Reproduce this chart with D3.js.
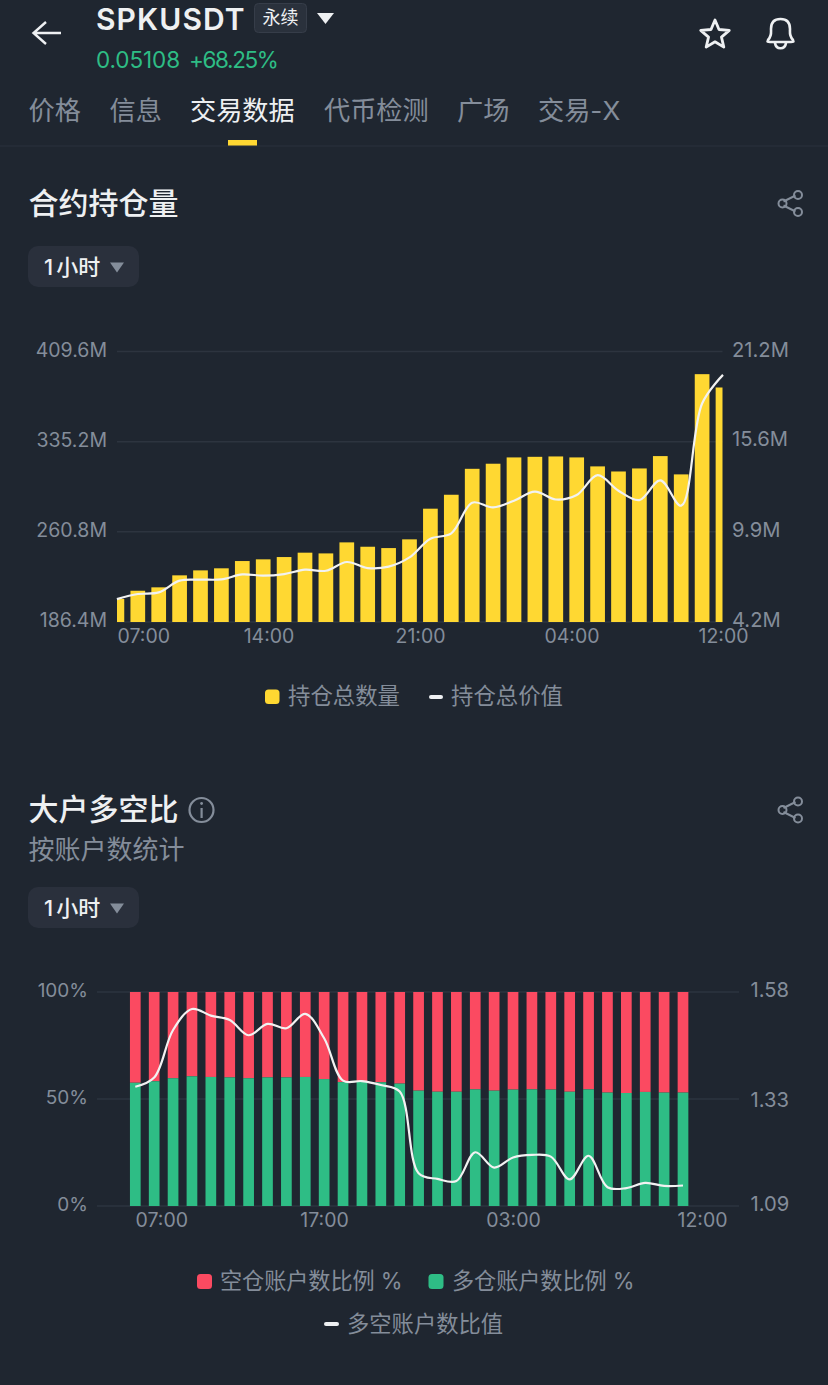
<!DOCTYPE html>
<html><head><meta charset="utf-8">
<script src="https://cdnjs.cloudflare.com/ajax/libs/d3/7.8.5/d3.min.js"></script>
<style>
html,body{margin:0;padding:0;background:#1f2630;}
svg{display:block;}
text{font-family:"Inter","Noto Sans CJK SC",sans-serif;}
</style></head><body>
<svg id="c" width="828" height="1385"></svg>
<script>
const oiTickLabels=["07:00","14:00","21:00","04:00","12:00"];
const oiLeftTicks=[186.4,260.8,335.2,409.6];
const oiRightTicks=[4.2,9.9,15.6,21.2];
const oiQty=[205.4,212.2,215.0,224.9,229.0,230.7,236.7,238.1,240.0,243.6,243.0,252.1,248.5,247.4,254.6,279.9,291.4,312.8,317.0,322.2,322.7,323.0,322.2,314.8,310.6,313.1,323.3,308.2,390.9,379.9];
const oiVal=[5.64,5.96,6.06,6.80,6.86,6.88,7.19,7.11,7.21,7.49,7.42,7.97,7.59,7.68,8.26,9.43,9.77,11.70,11.40,11.82,12.39,11.90,12.18,13.43,12.45,11.86,13.10,11.51,17.93,19.73];
const lsTickLabels=["07:00","17:00","03:00","12:00"];
const lsLeftTicks=[0,50,100];
const lsRightTicks=[1.09,1.33,1.58];
const lsLong=[57.6,58.3,59.7,60.6,60.3,60.1,59.7,60.1,60.1,60.3,59.3,57.9,58.1,57.8,57.2,53.9,53.4,53.4,54.5,53.9,54.4,54.5,54.4,53.4,54.5,53.0,52.8,53.3,53.0,53.0];
const lsRatio=[1.363,1.384,1.493,1.541,1.526,1.516,1.481,1.507,1.497,1.530,1.474,1.377,1.376,1.367,1.352,1.165,1.152,1.147,1.213,1.178,1.201,1.207,1.203,1.151,1.205,1.133,1.131,1.143,1.136,1.137];

const BG="#1f2630",GRID="#2d343f",GRAY="#848d9a",WHITE="#eef0f2",YEL="#ffd832",RED="#fb4a61",GRN="#2ebd85";
const svg=d3.select("#c");
function t(x,y,s,size,fill,opts={}){
  return svg.append("text").attr("x",x).attr("y",y).text(s).attr("font-size",size).attr("fill",fill)
   .attr("font-weight",opts.w||400).attr("text-anchor",opts.a||"start").attr("letter-spacing",opts.ls||null);
}
/* header */
svg.append("path").attr("d","M61 33H34M46 22L33.500 33L46 44").attr("fill","none").attr("stroke",WHITE).attr("stroke-width",2.4);
t(96,30,"SPKUSDT",30,WHITE,{w:600,ls:1.1});
svg.append("rect").attr("x",254.500).attr("y",3.500).attr("width",52).attr("height",29).attr("rx",4).attr("fill","#2a313c").attr("stroke","#363d49");
t(280.500,24,"永续",18,WHITE,{a:"middle"});
svg.append("path").attr("d","M317 13H334L325.500 24Z").attr("fill",WHITE);
t(96,68,"0.05108",22.5,GRN,{ls:-0.1});
t(189,68,"+68.25%",22.5,GRN,{ls:-1.4});
const tabs=[["价格",28.5],["信息",109.5],["交易数据",190],["代币检测",324],["广场",457],["交易-X",538]];
tabs.forEach(([s,x])=>t(x,120,s,26.2,s==="交易数据"?WHITE:GRAY));
svg.append("rect").attr("x",228).attr("y",140).attr("width",29).attr("height",6).attr("fill",YEL);
svg.append("line").attr("x1",0).attr("x2",828).attr("y1",146).attr("y2",146).attr("stroke","#2a313c");
const star=d3.range(10).map(i=>{const r=i%2?6.8:15,a=-Math.PI/2+i*Math.PI/5;return[715+r*Math.cos(a),35+r*Math.sin(a)];});
svg.append("path").attr("d",d3.line().curve(d3.curveLinearClosed)(star)).attr("fill","none").attr("stroke",WHITE).attr("stroke-width",2.8).attr("stroke-linejoin","round");
svg.append("path").attr("d","M768 40C772 36 771 32 771 29C771 22 775 19 780.500 19C786 19 790 22 790 29C790 32 789 36 793 40C794 42 793 42 791 42H770C768 42 767 42 768 40ZM775 43C776 50 785 50 786 43").attr("fill","none").attr("stroke",WHITE).attr("stroke-width",2.6);
function share(cx,cy){
  const g=svg.append("g").attr("fill","none").attr("stroke",GRAY).attr("stroke-width",2);
  g.append("path").attr("d",`M${cx-6.500} ${cy-2}L${cx+5.500} ${cy-8}M${cx-6.500} ${cy+2}L${cx+5.500} ${cy+8}`);
  g.append("circle").attr("cx",cx-7.500).attr("cy",cy).attr("r",4);
  g.append("circle").attr("cx",cx+8).attr("cy",cy-8.500).attr("r",4);
  g.append("circle").attr("cx",cx+8).attr("cy",cy+8.500).attr("r",4);
}
function dropdown(y){
  svg.append("rect").attr("x",28).attr("y",y).attr("width",111).attr("height",41).attr("rx",10).attr("fill","#2a303c");
  const lab=t(44,y+29,"1",22,WHITE,{w:500});
  lab.append("tspan").attr("dx",3).text("小时");
  svg.append("path").attr("d",`M110 ${y+16.500}H124L117 ${y+26.500}Z`).attr("fill",GRAY);
}
t(28.500,214,"合约持仓量",30,WHITE,{w:500});
share(790,203.500);
dropdown(246);
t(28.500,820,"大户多空比",30,WHITE,{w:500});
svg.append("circle").attr("cx",201.500).attr("cy",810).attr("r",12).attr("fill","none").attr("stroke",GRAY).attr("stroke-width",2.2);
svg.append("rect").attr("x",200.500).attr("y",808).attr("width",2.200).attr("height",10).attr("fill",GRAY);
svg.append("circle").attr("cx",201.600).attr("cy",803.500).attr("r",1.400).attr("fill",GRAY);
t(28.500,859,"按账户数统计",26,GRAY);
share(790,810);
dropdown(887);

function styleAxis(g,size){
  g.select(".domain").remove();
  g.selectAll(".tick line").remove();
  g.selectAll(".tick text").attr("font-size",size||19.5).attr("fill",GRAY).attr("font-family","Inter,sans-serif");
}
svg.append("defs").append("clipPath").attr("id","oiClip").append("rect").attr("x",117).attr("y",340).attr("width",605.500).attr("height",290);

/* chart 1 */
const oiIdx=d3.range(oiQty.length);
const ox=d3.scalePoint().domain(oiIdx).range([116.900,723]);
const oyL=d3.scaleLinear().domain([186.4,409.6]).range([622,351.500]);
const oyR=d3.scaleLinear().domain([4.2,21.2]).range([622,351.500]);
svg.append("g").selectAll("line").data(oiLeftTicks).join("line").attr("x1",117).attr("x2",722.500).attr("y1",d=>oyL(d)).attr("y2",d=>oyL(d)).attr("stroke",GRID).attr("stroke-width",1.500);
const oBarW=14.700;
svg.append("g").attr("clip-path","url(#oiClip)").selectAll("rect").data(oiQty).join("rect")
  .attr("x",(d,i)=>ox(i)-oBarW/2).attr("width",oBarW).attr("y",d=>oyL(d)).attr("height",d=>oyL(186.4)-oyL(d)).attr("fill",YEL);
svg.append("path").datum(oiVal).attr("fill","none").attr("stroke","#f2f2f2").attr("stroke-width",2.2)
  .attr("d",d3.line().x((d,i)=>ox(i)).y(d=>oyR(d)).curve(d3.curveCatmullRom.alpha(0.5)));
const oxT=d3.scalePoint().domain(oiTickLabels).range([117,723]);
const ax1=svg.append("g").attr("transform","translate(0,622)").call(d3.axisBottom(oxT).tickSize(0).tickPadding(21));
styleAxis(ax1);
ax1.selectAll(".tick text").attr("dy",0).attr("y",21).filter(d=>d==="07:00").attr("text-anchor","start");
const ayl=svg.append("g").attr("transform","translate(107,-2)").call(d3.axisLeft(oyL).tickValues(oiLeftTicks).tickSize(0).tickPadding(0).tickFormat(d=>d.toFixed(1)+"M"));
styleAxis(ayl);
ayl.selectAll(".tick text").attr("dy","0.34em");
const ayr=svg.append("g").attr("transform","translate(732,-2)").call(d3.axisRight(oyR).tickValues(oiRightTicks).tickSize(0).tickPadding(0).tickFormat(d=>d.toFixed(1)+"M"));
styleAxis(ayr,20.2);
ayr.selectAll(".tick text").attr("dy","0.34em");
/* legend 1 */
svg.append("rect").attr("x",265).attr("y",689.500).attr("width",14.500).attr("height",14.500).attr("rx",3.500).attr("fill",YEL);
t(288,704,"持仓总数量",22.4,GRAY);
svg.append("rect").attr("x",429).attr("y",695).attr("width",14).attr("height",4).attr("rx",2).attr("fill",WHITE);
t(451,704,"持仓总价值",22.4,GRAY);

/* chart 2 */
const lx=d3.scalePoint().domain(d3.range(lsLong.length)).range([135.300,683]);
const lyL=d3.scaleLinear().domain([0,100]).range([1206,992]);
const lyR=d3.scaleLinear().domain([1.09,1.58]).range([1206,992]);
svg.append("g").selectAll("line").data(lsLeftTicks).join("line").attr("x1",97).attr("x2",739).attr("y1",d=>lyL(d)).attr("y2",d=>lyL(d)).attr("stroke",GRID).attr("stroke-width",1.500);
const lBarW=10.700;
svg.append("g").selectAll("rect").data(lsLong).join("rect").attr("x",(d,i)=>lx(i)-lBarW/2).attr("width",lBarW).attr("y",lyL(100)).attr("height",d=>lyL(d)-lyL(100)).attr("fill",RED);
svg.append("g").selectAll("rect").data(lsLong).join("rect").attr("x",(d,i)=>lx(i)-lBarW/2).attr("width",lBarW).attr("y",d=>lyL(d)).attr("height",d=>lyL(0)-lyL(d)).attr("fill",GRN);
svg.append("path").datum(lsRatio).attr("fill","none").attr("stroke","#f2f2f2").attr("stroke-width",2.2)
  .attr("d",d3.line().x((d,i)=>lx(i)).y(d=>lyR(d)).curve(d3.curveCatmullRom.alpha(0.5)));
const lxT=d3.scalePoint().domain(lsTickLabels).range([135,702]);
const ax2=svg.append("g").attr("transform","translate(0,1206)").call(d3.axisBottom(lxT).tickSize(0));
styleAxis(ax2);
ax2.selectAll(".tick text").attr("dy",0).attr("y",21).filter(d=>d==="07:00").attr("text-anchor","start");
const byl=svg.append("g").attr("transform","translate(88,-2)").call(d3.axisLeft(lyL).tickValues(lsLeftTicks).tickSize(0).tickPadding(0).tickFormat(d=>d+"%"));
styleAxis(byl,19);
byl.selectAll(".tick text").attr("dy","0.34em");
const byr=svg.append("g").attr("transform","translate(750.500,-2)").call(d3.axisRight(lyR).tickValues(lsRightTicks).tickSize(0).tickPadding(0).tickFormat(d=>d.toFixed(2)));
styleAxis(byr,20.2);
byr.selectAll(".tick text").attr("dy","0.34em");
/* legend 2 */
svg.append("rect").attr("x",197).attr("y",1274).attr("width",15).attr("height",15).attr("rx",3.500).attr("fill",RED);
t(220,1289,"空仓账户数比例 %",22.2,GRAY,{ls:-0.1});
svg.append("rect").attr("x",428.500).attr("y",1274).attr("width",15).attr("height",15).attr("rx",3.500).attr("fill",GRN);
t(452,1289,"多仓账户数比例 %",22.2,GRAY,{ls:-0.1});
svg.append("rect").attr("x",324).attr("y",1322).attr("width",15).attr("height",4).attr("rx",2).attr("fill",WHITE);
t(347,1332,"多空账户数比值",22.3,GRAY);
</script></body></html>
